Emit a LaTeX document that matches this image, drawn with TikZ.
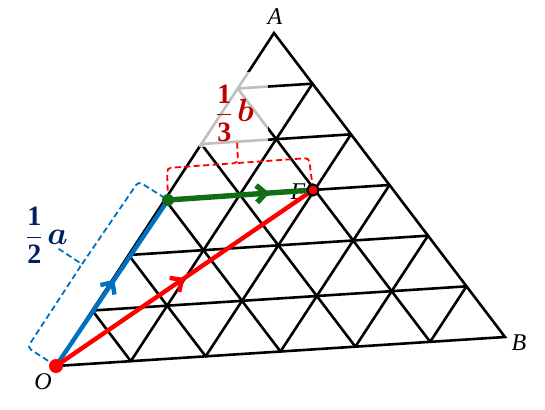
\RequirePackage{fix-cm}
\documentclass[tikz,border=0pt]{standalone}
\usepackage{fontspec}
\setmainfont{Liberation Serif}
\usepackage{amsmath}
\usetikzlibrary{calc,arrows.meta,decorations.markings}
\definecolor{vblue}{RGB}{0,112,192}
\definecolor{vred}{RGB}{255,0,0}
\definecolor{vgreen}{RGB}{16,110,20}
\definecolor{lblblue}{RGB}{0,32,96}
\definecolor{lblred}{RGB}{192,0,0}
\newcommand{\bigvar}[1]{\scalebox{1.15}{$\boldsymbol{#1}$}}
\begin{document}
\begin{tikzpicture}[x=1pt,y=-1pt,
  gridline/.style={line width=2.6pt,black,line cap=round},
  vec/.style={line width=4.4pt,postaction={decorate},
    decoration={markings,mark=at position #1 with {\arrow{Straight Barb[length=9pt,width=17pt]}}}},
  bracketline/.style={line width=1.8pt,rounded corners=4pt,dash pattern=on 6pt off 3.5pt},
  lettr/.style={font=\fontsize{24}{28}\selectfont\itshape,inner sep=0pt},
  fraclbl/.style={font=\fontsize{28}{33}\selectfont,inner sep=0pt}]
\useasboundingbox (0,0) rectangle (545,409);
% main points
\coordinate (O) at (56,366);
\coordinate (A) at (274,33);
\coordinate (B) at (505,337);
\coordinate (G) at (168,200);
\coordinate (F) at (313,190);
% grid
\foreach \i in {1,...,5}{
  \draw[gridline] ($(O)!\i/6!(A)$) -- ($(B)!\i/6!(A)$);
  \draw[gridline] ($(O)!\i/6!(B)$) -- ($(A)!\i/6!(B)$);
  \draw[gridline] ($(O)!\i/6!(A)$) -- ($(O)!\i/6!(B)$);
}
\draw[gridline,line join=miter] (O) -- (A) -- (B) -- cycle;
% faded area behind the 1/3 b label
\fill[white,opacity=0.75] (199,72) rectangle (268,147);
% blue bracket
\coordinate (b1) at (27.5,347.4);
\coordinate (bm) at (82,264.1);
\coordinate (bt) at (58.6,248.8);
\coordinate (b2) at (138.5,181.5);
\draw[bracketline,vblue] (O) -- (b1) -- (bm) -- (bt);
\draw[bracketline,vblue] (bm) -- (b2) -- (G);
% red bracket
\coordinate (r1) at (167,168);
\coordinate (rm) at (238,163);
\coordinate (rt) at (237,139);
\coordinate (r2) at (309,158);
\draw[bracketline,vred] (G) -- (r1) -- (rm) -- (rt);
\draw[bracketline,vred] (rm) -- (r2) -- (F);
% point labels
\node[lettr] (lA) at (275,17) {A};
\node[lettr] (lB) at (519,343) {B};
\node[lettr] (lO) at (43,382) {O};
\node[lettr] (lF) at (298,192) {F};
% vectors
\draw[vec=0.52,vblue] (O) -- (G);
\draw[vec=0.5,vred] (O) -- (F);
\draw[vec=0.7,vgreen,line width=5.4pt] (G) -- (F);
% dots
\fill[vred] (O) circle (7);
\fill[vgreen] (G) circle (6);
\filldraw[fill=vred,draw=black,line width=2pt] (F) circle (5.6);
% fraction labels
\node[fraclbl,text=lblblue] (la) at (47,235) {$\displaystyle\frac{\mathbf{1}}{\mathbf{2}}\,$\bigvar{a}};
\node[fraclbl,text=lblred] (lb) at (235,113) {$\displaystyle\frac{\mathbf{1}}{\mathbf{3}}\,$\bigvar{b}};
\end{tikzpicture}
\end{document}
